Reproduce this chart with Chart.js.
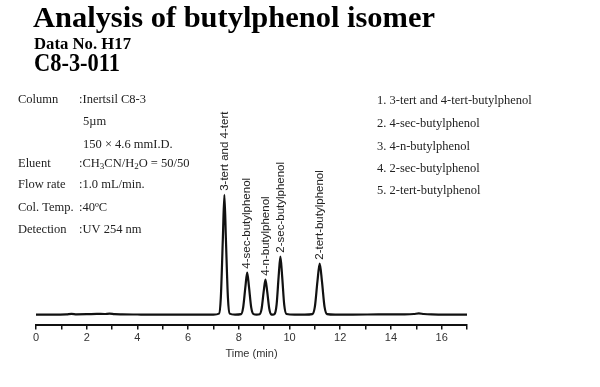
<!DOCTYPE html>
<html>
<head>
<meta charset="utf-8">
<script src="https://cdn.jsdelivr.net/npm/chart.js@4.4.1/dist/chart.umd.min.js"></script>
<style>
  html, body { margin: 0; padding: 0; background: #fff; }
  #wrap { width: 600px; height: 387px; position: relative; }
</style>
</head>
<body>
<div id="wrap"><canvas id="chromChart"></canvas></div>
<script>
// chromatogram trace (time in min, signal in arbitrary units)
const traceTime = [0, 0.6, 1.2, 1.4, 1.6, 2.0, 2.4, 2.7, 2.9, 3.1, 3.4, 4.0, 5.0, 6.0, 7.0,
  7.22, 7.29, 7.37, 7.43, 7.49, 7.57, 7.64, 7.85,
  8.09, 8.17, 8.26, 8.33, 8.40, 8.49, 8.58, 8.70,
  8.82, 8.90, 8.98, 9.05, 9.12, 9.20, 9.27, 9.34,
  9.41, 9.49, 9.57, 9.64, 9.71, 9.79, 9.88, 10.2, 10.6,
  10.90, 11.00, 11.10, 11.19, 11.28, 11.38, 11.48, 11.8,
  12.5, 13.5, 14.5, 14.9, 15.1, 15.3, 15.6, 16.2, 17.0];
const traceSignal = [0, 0, 0.2, 0.8, 0.3, 0.4, 0.8, 0.6, 1.0, 0.4, 0.2, 0.1, 0, 0, 0,
  1, 17, 76, 120, 76, 17, 1, 0,
  0.5, 7, 28, 42, 28, 7, 0.5, 0,
  0.4, 6, 23, 35, 23, 6, 0.4, 0,
  0.6, 10, 38, 58, 38, 10, 0.6, 0, 0,
  0.5, 8, 33, 51, 33, 8, 0.5, 0,
  0, 0.2, 0.3, 0.6, 1.2, 0.6, 0.2, 0, 0];

// peak labels
const peakNames = ['3-tert and 4-tert', '4-sec-butylphenol', '4-n-butylphenol', '2-sec-butylphenol', '2-tert-butylphenol'];
const peakTimes = [7.43, 8.33, 9.05, 9.64, 11.19];
const peakHeights = [120, 42, 35, 58, 51];

// text blocks
const condLabels = ['Column', '', '', 'Eluent', 'Flow rate', 'Col. Temp.', 'Detection'];
const condValues = [':Inertsil C8-3', '5\u00b5m', '150 \u00d7 4.6 mmI.D.', null, ':1.0 mL/min.', ':40\u00baC', ':UV 254 nm'];
const compoundList = ['1. 3-tert and 4-tert-butylphenol', '2. 4-sec-butylphenol', '3. 4-n-butylphenol', '4. 2-sec-butylphenol', '5. 2-tert-butylphenol'];

const SERIF = '"Liberation Serif", "Times New Roman", serif';
const SANS = '"Liberation Sans", Arial, sans-serif';

// draw text squeezed/stretched to a given width
function drawFit(ctx, text, x, y, font, width) {
  ctx.save();
  ctx.font = font;
  const w = ctx.measureText(text).width;
  ctx.translate(x, y);
  ctx.scale(width / w, 1);
  ctx.fillText(text, 0, 0);
  ctx.restore();
}

const textPlugin = {
  id: 'textPlugin',
  afterDraw(chart) {
    const ctx = chart.ctx;
    const xs = chart.scales.x;
    const ys = chart.scales.y;
    ctx.save();
    ctx.fillStyle = '#000';
    ctx.textAlign = 'left';
    ctx.textBaseline = 'alphabetic';
    drawFit(ctx, 'Analysis of butylphenol isomer', 33, 27, 'bold 30px ' + SERIF, 402);
    drawFit(ctx, 'Data No. H17', 34, 48.5, 'bold 16px ' + SERIF, 97);
    drawFit(ctx, 'C8-3-011', 34, 71, 'bold 26px ' + SERIF, 86);

    // conditions
    ctx.fillStyle = '#222';
    ctx.font = '12.5px ' + SERIF;
    ctx.textBaseline = 'middle';
    const rowY = [100, 122, 145, 164, 185, 208, 230];
    condLabels.forEach((lab, i) => {
      if (lab) ctx.fillText(lab, 18, rowY[i]);
      const v = condValues[i];
      if (v === null) return;
      ctx.fillText(v, v.startsWith(':') ? 79 : 83, rowY[i]);
    });
    // eluent with subscripts
    let ex = 79;
    const ey = rowY[3];
    const parts = [[':CH', 0], ['3', 1], ['CN/H', 0], ['2', 1], ['O = 50/50', 0]];
    parts.forEach(([t, sub]) => {
      ctx.font = (sub ? '9px ' : '12.5px ') + SERIF;
      ctx.fillText(t, ex, ey + (sub ? 3 : 0));
      ex += ctx.measureText(t).width;
    });

    // compound list
    ctx.font = '12.5px ' + SERIF;
    const listY = [101, 124, 146.5, 168.5, 191];
    compoundList.forEach((t, i) => ctx.fillText(t, 377, listY[i]));

    // peak labels
    ctx.font = '11.5px ' + SANS;
    ctx.fillStyle = '#222';
    ctx.textBaseline = 'middle';
    peakNames.forEach((name, i) => {
      const px = xs.getPixelForValue(peakTimes[i]);
      const py = ys.getPixelForValue(peakHeights[i]) - 4;
      ctx.save();
      ctx.translate(px, py);
      ctx.rotate(-Math.PI / 2);
      ctx.fillText(name, 0, 0);
      ctx.restore();
    });
    ctx.restore();
  }
};

const ctx = document.getElementById('chromChart').getContext('2d');
const chromChart = new Chart(ctx, {
  type: 'line',
  data: {
    datasets: [{
      data: traceTime.map((t, i) => ({ x: t, y: traceSignal[i] })),
      borderColor: '#111',
      borderWidth: 2.2,
      pointRadius: 0,
      cubicInterpolationMode: 'monotone',
      fill: false
    }]
  },
  options: {
    responsive: true,
    maintainAspectRatio: false,
    animation: false,
    layout: { padding: { left: 36, right: 133, top: 85, bottom: 26 } },
    plugins: { legend: { display: false }, tooltip: { enabled: false } },
    scales: {
      x: {
        type: 'linear',
        min: 0,
        max: 17,
        border: { display: true, color: '#111', width: 2 },
        grid: { drawOnChartArea: false, drawTicks: true, tickLength: 5, color: '#111', lineWidth: 1.5 },
        ticks: {
          stepSize: 1,
          autoSkip: false,
          maxRotation: 0,
          padding: 2,
          color: '#333',
          font: { family: SANS, size: 11 },
          callback: v => (v % 2 === 0 ? String(v) : '')
        },
        title: {
          display: true,
          text: 'Time (min)',
          color: '#333',
          font: { family: SANS, size: 11 },
          padding: { top: 1, bottom: 0 }
        }
      },
      y: {
        display: false,
        min: -10,
        max: 230
      }
    }
  },
  plugins: [textPlugin]
});
</script>
</body>
</html>
